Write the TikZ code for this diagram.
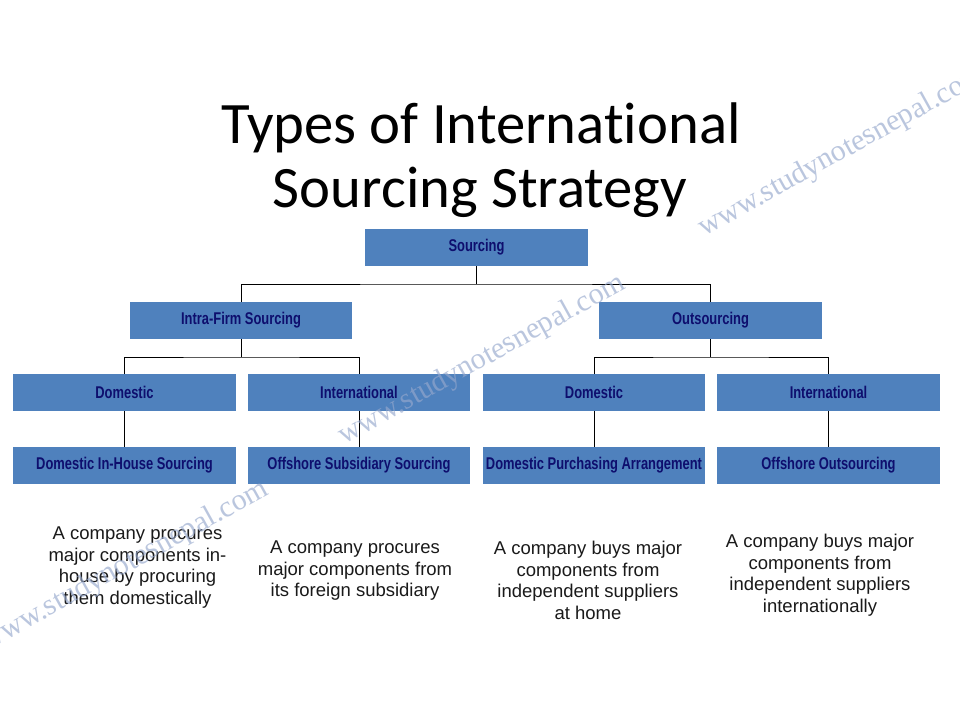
\documentclass[tikz,border=0pt]{standalone}
\usepackage{fontspec}
\setmainfont{Liberation Sans}
\newfontfamily\titlefont[Ligatures=NoCommon]{Carlito}
\newfontfamily\boxfont[FakeStretch=0.76]{Liberation Sans}
\newfontfamily\wmfont{Liberation Serif}
\definecolor{boxblue}{HTML}{4F81BD}
\definecolor{navytext}{HTML}{0E0E6E}
\definecolor{wmcolor}{RGB}{150,168,205}
\definecolor{desctext}{HTML}{1A1A1A}
\tikzset{
  orgbox/.style={fill=boxblue, draw=none, minimum width=222.5pt, minimum height=37pt, inner sep=0pt,
    font=\boxfont\bfseries\fontsize{17}{20}\selectfont, text=navytext},
  titletext/.style={font=\titlefont\fontsize{58.7}{64}\selectfont, text=black, anchor=base, inner sep=0pt},
  desc/.style={font=\fontsize{18.5}{21.5}\selectfont, text=desctext, align=center, anchor=north, inner sep=0pt},
  conn/.style={draw=black, line width=1pt},
  watermark/.style={font=\wmfont\fontsize{30}{30}\selectfont, text=wmcolor, opacity=0.65, rotate=29, inner sep=0pt}
}
\begin{document}
\begin{tikzpicture}[x=1pt,y=-1pt]
\useasboundingbox (0,0) rectangle (960,720);
\fill[white] (0,0) rectangle (960,720);

% title
\node[titletext] (t1) at (481,143) {Types of International};
\node[titletext] (t2) at (480,207) {Sourcing Strategy};

% boxes
\node[orgbox, minimum width=223pt] (src) at (476.5,247.5) {Sourcing};
\node[orgbox] (intra) at (241,320.5) {Intra-Firm Sourcing};
\node[orgbox] (out) at (710.5,320.5) {Outsourcing};

\node[orgbox] (d1) at (124.5,392.5) {Domestic};
\node[orgbox] (i1) at (359,392.5) {International};
\node[orgbox] (d2) at (594,392.5) {Domestic};
\node[orgbox] (i2) at (828.5,392.5) {International};

\node[orgbox] (dih) at (124.5,465.5) {Domestic In-House Sourcing};
\node[orgbox] (oss) at (359,465.5) {Offshore Subsidiary Sourcing};
\node[orgbox] (dpa) at (594,465.5) {Domestic Purchasing Arrangement};
\node[orgbox] (oos) at (828.5,465.5) {Offshore Outsourcing};

% connectors
\coordinate (j0) at (476.5,284);
\coordinate (j1) at (241,357);
\coordinate (j2) at (710.5,357);
\draw[conn] (src.south) -- (j0);
\draw[conn] (intra.north) |- (j0) -| (out.north);
\draw[conn] (intra.south) -- (j1);
\draw[conn] (d1.north) |- (j1) -| (i1.north);
\draw[conn] (out.south) -- (j2);
\draw[conn] (d2.north) |- (j2) -| (i2.north);
\draw[conn] (d1.south) -- (dih.north);
\draw[conn] (i1.south) -- (oss.north);
\draw[conn] (d2.south) -- (dpa.north);
\draw[conn] (i2.south) -- (oos.north);

% descriptions
\node[desc] (n1) at (137.5,527) {A company procures\\major components in-\\house by procuring\\them domestically};
\node[desc] (n2) at (355,541) {A company procures\\major components from\\its foreign subsidiary};
\node[desc] (n3) at (588,541) {A company buys major\\components from\\independent suppliers\\at home};
\node[desc] (n4) at (820,534) {A company buys major\\components from\\independent suppliers\\internationally};

% watermarks
\begin{scope}
\clip (0,0) rectangle (960,720);
\node[watermark] (w1) at (842,152) {www.studynotesnepal.com};
\node[watermark] (w2) at (482,360) {www.studynotesnepal.com};
\node[watermark] (w3) at (125,566) {www.studynotesnepal.com};
\end{scope}
\end{tikzpicture}
\end{document}
